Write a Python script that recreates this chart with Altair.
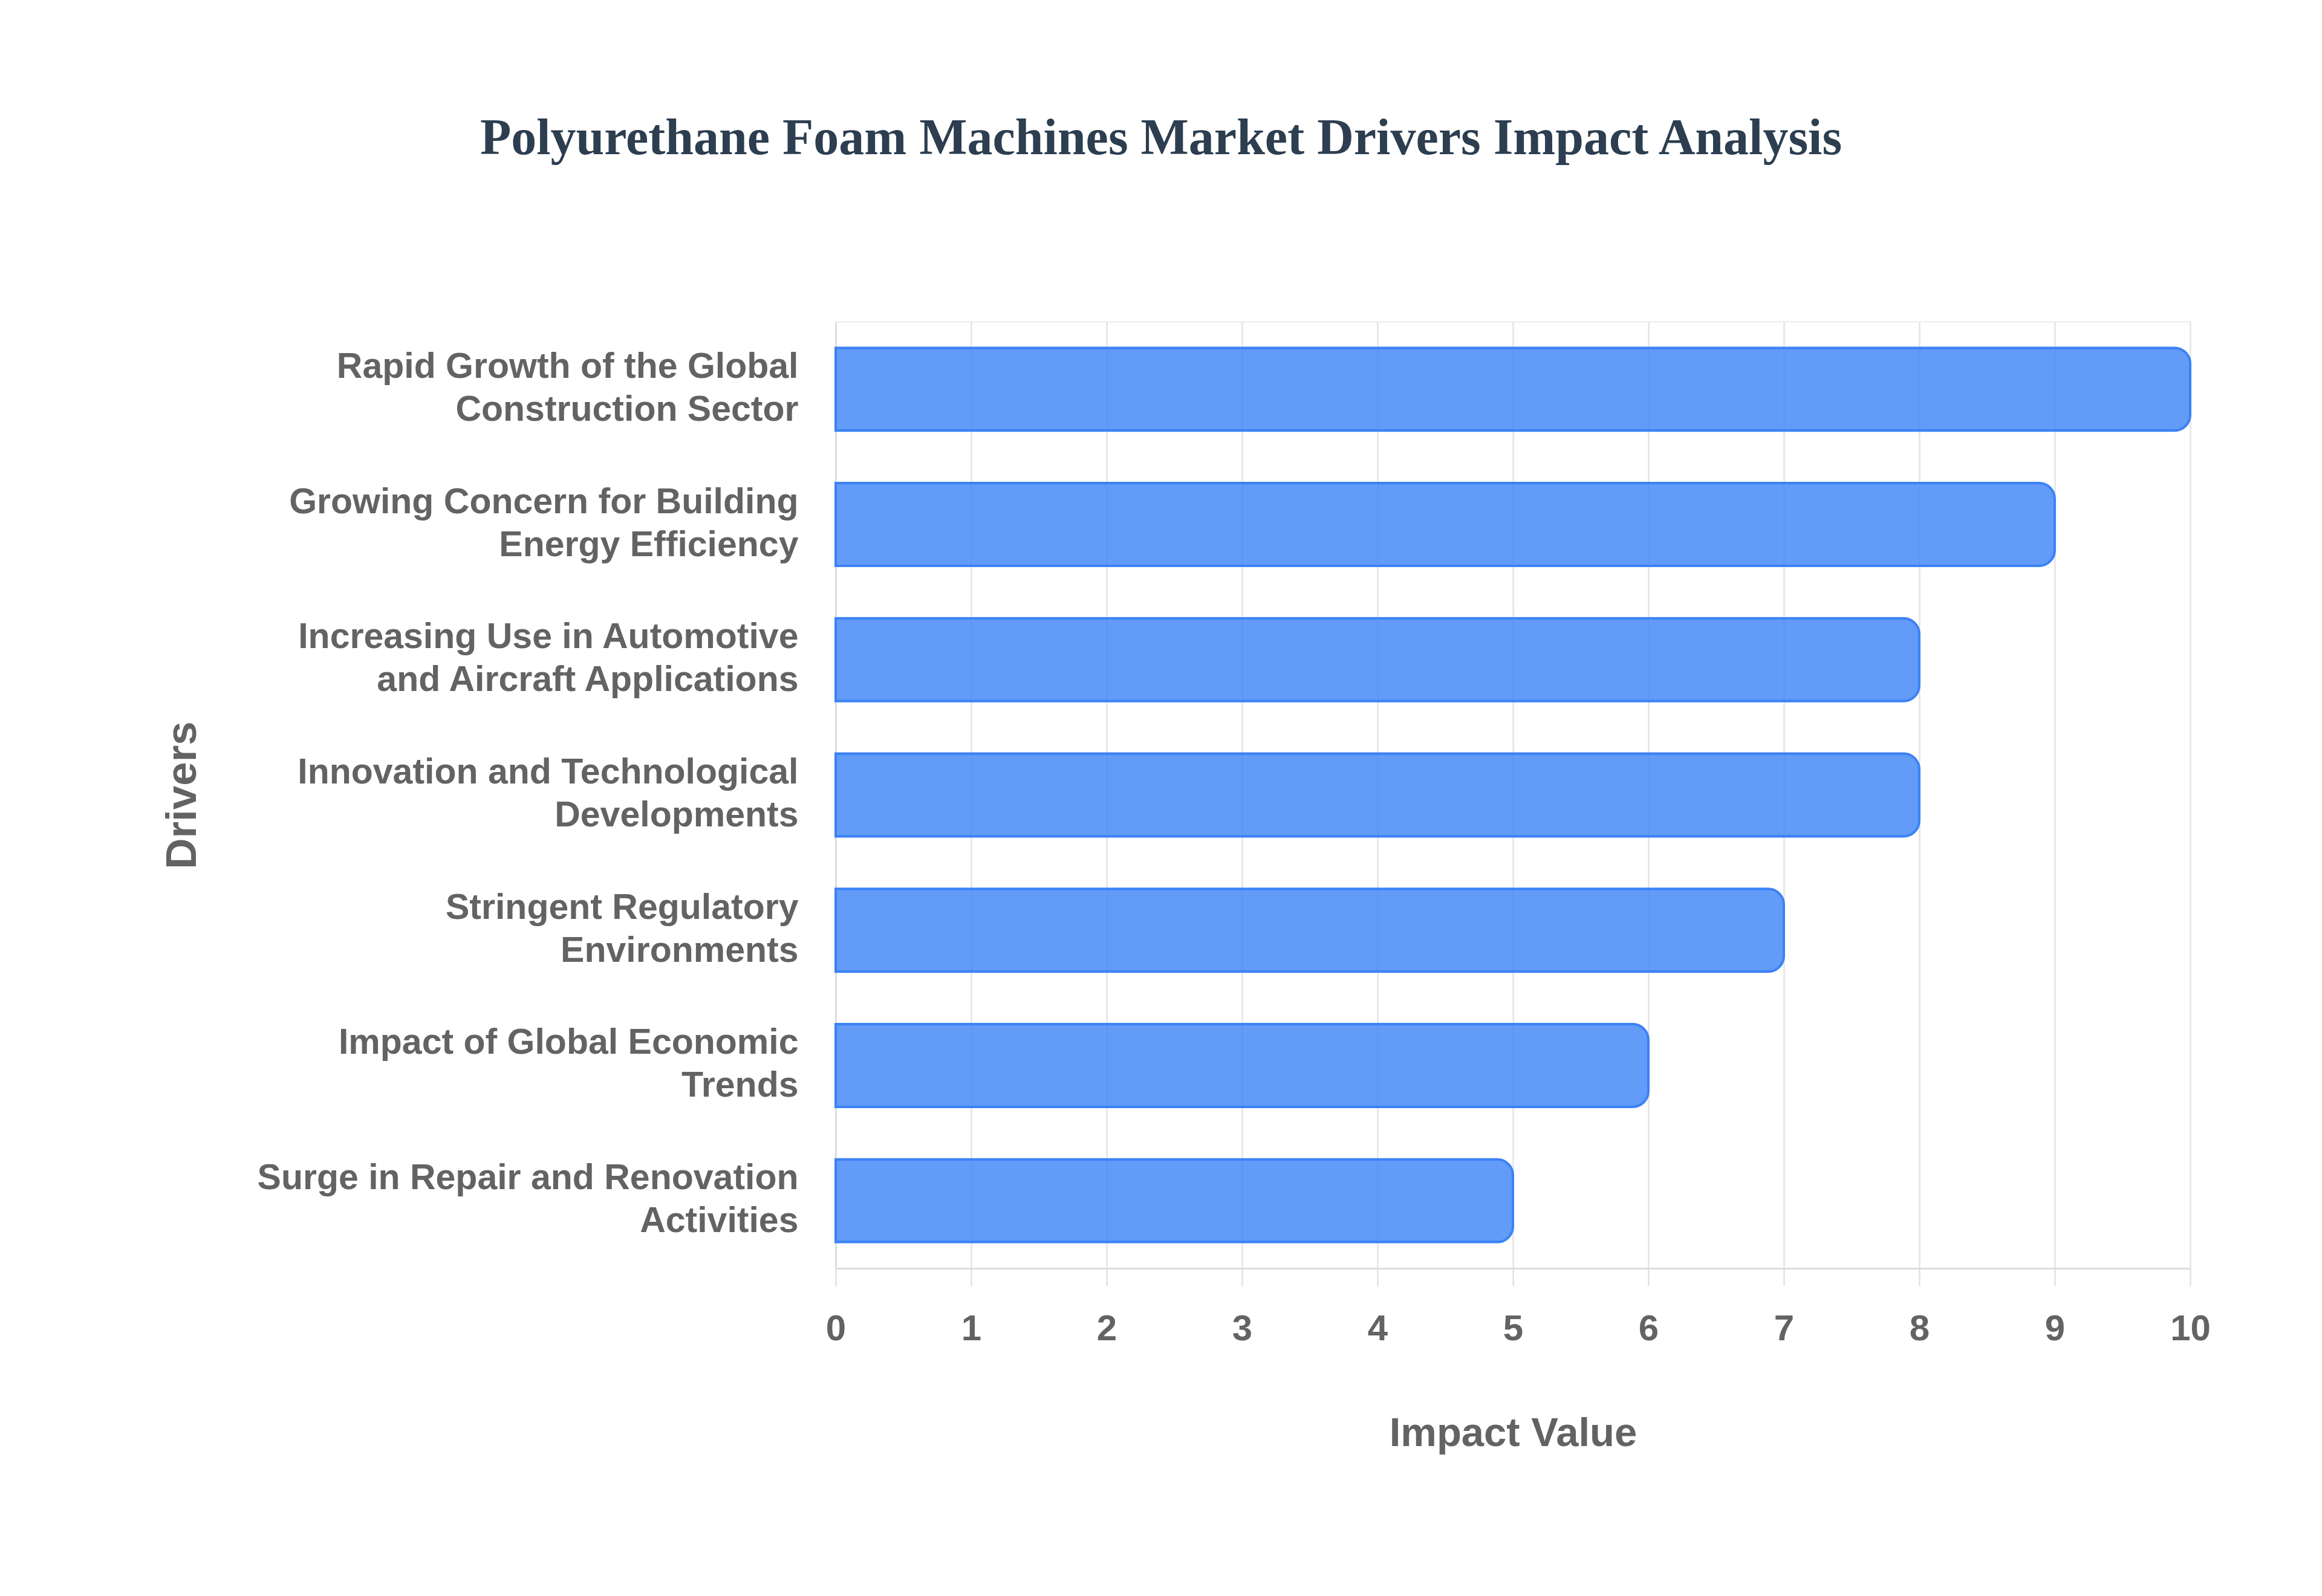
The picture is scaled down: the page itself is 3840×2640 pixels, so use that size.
import altair as alt
import pandas as pd

drivers = [
    "Rapid Growth of the Global|Construction Sector",
    "Growing Concern for Building|Energy Efficiency",
    "Increasing Use in Automotive|and Aircraft Applications",
    "Innovation and Technological|Developments",
    "Stringent Regulatory|Environments",
    "Impact of Global Economic|Trends",
    "Surge in Repair and Renovation|Activities",
]
impact = [10, 9, 8, 8, 7, 6, 5]
x_ticks = [0, 1, 2, 3, 4, 5, 6, 7, 8, 9, 10]

df = pd.DataFrame({"Driver": drivers, "Impact": impact})

SANS = "Liberation Sans"
GRAY = "#636363"

bars = alt.Chart(df).mark_bar(
    color="#3b82f6",
    fillOpacity=0.8,
    stroke="#3b82f6",
    strokeWidth=4,
    cornerRadiusEnd=26,
).encode(
    x=alt.X(
        "Impact:Q",
        scale=alt.Scale(domain=[0, 10], nice=False),
        axis=alt.Axis(
            values=x_ticks,
            format="d",
            title="Impact Value",
            grid=True,
            gridColor="#e4e4e4",
            gridWidth=2.5,
            domainColor="#dddddd",
            domainWidth=3,
            tickColor="#e2e2e2",
            tickSize=29,
            tickWidth=2.5,
            labelFont=SANS,
            labelFontSize=60,
            labelFontWeight="bold",
            labelColor=GRAY,
            labelPadding=42,
            labelFlush=False,
            titleFont=SANS,
            titleFontSize=67,
            titleFontWeight="bold",
            titleColor=GRAY,
            titleX=1120,
            titleY=240,
            titleAlign="center",
            titleBaseline="top",
        ),
    ),
    y=alt.Y(
        "Driver:N",
        sort=drivers,
        scale=alt.Scale(paddingInner=0.388, paddingOuter=0.194),
        axis=alt.Axis(
            title="Drivers",
            labelExpr="split(datum.value, '|')",
            ticks=False,
            grid=False,
            domainColor="#dddddd",
            domainWidth=3,
            labelFont=SANS,
            labelFontSize=59,
            labelFontWeight="bold",
            labelColor=GRAY,
            labelPadding=62,
            labelLineHeight=71,
            labelOffset=-37,
            labelLimit=2000,
            titleFont=SANS,
            titleFontSize=71,
            titleFontWeight="bold",
            titleColor=GRAY,
            titleAngle=270,
            titleX=-1080,
            titleY=783,
            titleAlign="center",
            titleBaseline="middle",
        ),
    ),
)

chart = bars.properties(
    width=2240,
    height=1566,
    autosize=alt.AutoSizeParams(type="none"),
    padding={"left": 1374, "top": 524, "right": 210, "bottom": 534},
    title=alt.TitleParams(
        text="Polyurethane Foam Machines Market Drivers Impact Analysis",
        font="Liberation Serif",
        fontSize=84,
        fontWeight="bold",
        color="#2c3e50",
        anchor="middle",
        dx=-582,
        offset=259,
    ),
).configure_view(strokeWidth=0).configure(background="white")

chart.save("out.html", embed_options={"renderer": "svg", "actions": False})
